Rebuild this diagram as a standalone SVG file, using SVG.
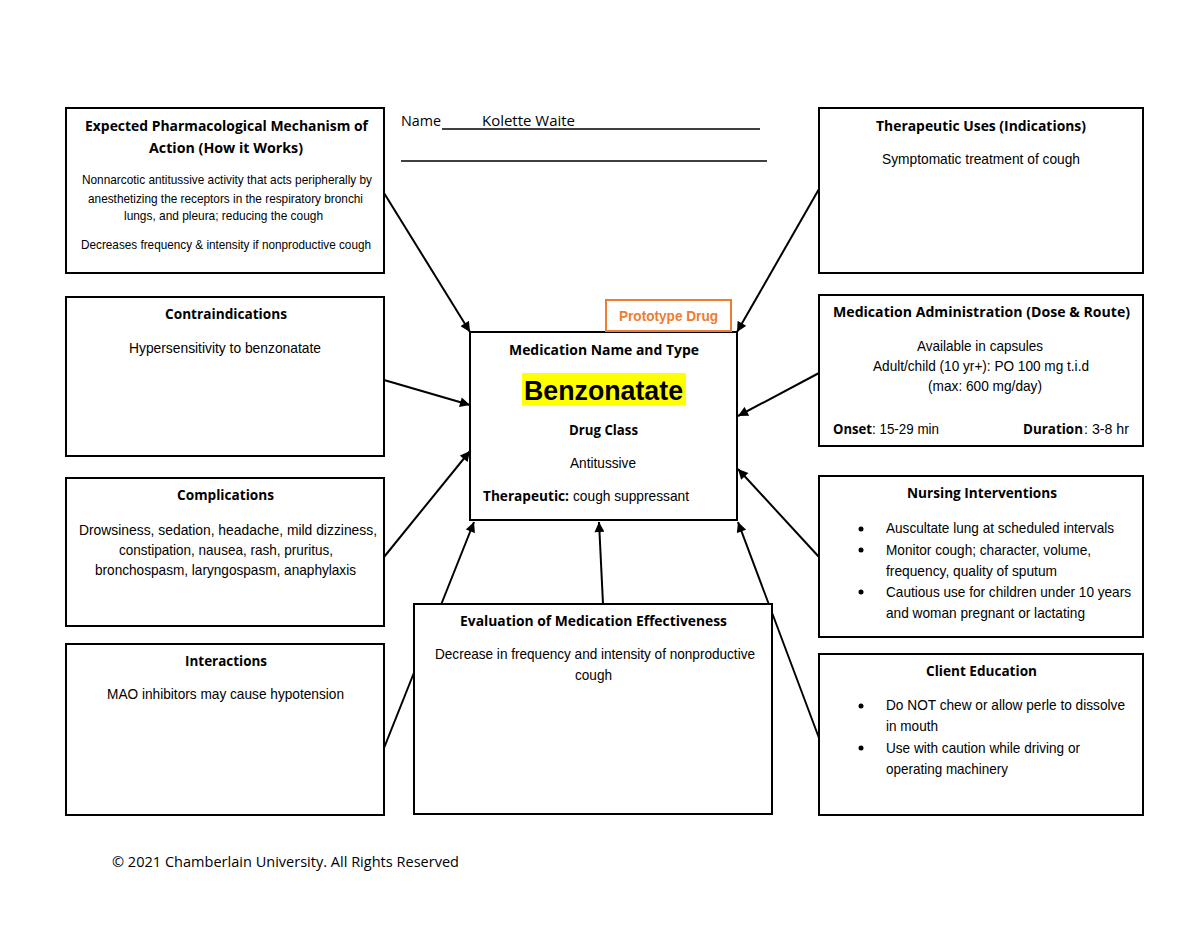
<svg xmlns="http://www.w3.org/2000/svg" width="1200" height="927" viewBox="0 0 1200 927">
<defs>
<marker id="arr" viewBox="0 0 10 10" refX="10" refY="5" markerWidth="11" markerHeight="10" markerUnits="userSpaceOnUse" orient="auto"><path d="M0,0 L10,5 L0,10 z" fill="#000"/></marker>
<style>
.box{fill:#fff;stroke:#000;stroke-width:2}
text{fill:#000}
.h{font-family:"Open Sans",Lato,sans-serif;font-weight:bold;font-size:13.5px}
.b{font-family:"Liberation Sans",Arial,sans-serif;font-size:15px}
.s{font-family:"Liberation Sans",Arial,sans-serif;font-size:13.5px}
.c{stroke:#000;stroke-width:2;fill:none;marker-end:url(#arr)}
.u{stroke:#000;stroke-width:1.3}
.cal{font-family:"Open Sans",Lato,sans-serif;font-size:14px}
</style>
</defs>
<rect width="1200" height="927" fill="#fff"/>
<g id="connectors">
<line class="c" x1="384" y1="193" x2="470" y2="332"/>
<line class="c" x1="819" y1="189" x2="737" y2="332"/>
<line class="c" x1="384" y1="380" x2="470" y2="405"/>
<line class="c" x1="384" y1="557" x2="470" y2="451"/>
<line class="c" x1="384" y1="748" x2="474" y2="522"/>
<line class="c" x1="603" y1="604" x2="599" y2="522"/>
<line class="c" x1="819" y1="373" x2="738" y2="416"/>
<line class="c" x1="819" y1="557" x2="738" y2="469"/>
<line class="c" x1="819" y1="738" x2="738" y2="522"/>
</g>
<g id="name-line">
<text class="cal" x="401" y="126" textLength="40" lengthAdjust="spacingAndGlyphs">Name</text>
<line class="u" x1="442" y1="129" x2="760" y2="129"/>
<text class="cal" x="482" y="126" textLength="93" lengthAdjust="spacingAndGlyphs">Kolette Waite</text>
<line class="u" x1="401" y1="161" x2="767" y2="161"/>
</g>
<g id="mechanism">
<rect class="box" x="66" y="108" width="318" height="165"/>
<text class="h" x="85" y="131" textLength="283" lengthAdjust="spacingAndGlyphs">Expected Pharmacological Mechanism of</text>
<text class="h" x="149" y="153" textLength="154" lengthAdjust="spacingAndGlyphs">Action (How it Works)</text>
<text class="s" x="82" y="184" textLength="290" lengthAdjust="spacingAndGlyphs">Nonnarcotic antitussive activity that acts peripherally by</text>
<text class="s" x="88" y="203" textLength="275" lengthAdjust="spacingAndGlyphs">anesthetizing the receptors in the respiratory bronchi</text>
<text class="s" x="124" y="220" textLength="199" lengthAdjust="spacingAndGlyphs">lungs, and pleura; reducing the cough</text>
<text class="s" x="81" y="249" textLength="290" lengthAdjust="spacingAndGlyphs">Decreases frequency &amp; intensity if nonproductive cough</text>
</g>
<g id="contraindications">
<rect class="box" x="66" y="297" width="318" height="159"/>
<text class="h" x="165" y="319" textLength="122" lengthAdjust="spacingAndGlyphs">Contraindications</text>
<text class="b" x="129" y="353" textLength="192" lengthAdjust="spacingAndGlyphs">Hypersensitivity to benzonatate</text>
</g>
<g id="complications">
<rect class="box" x="66" y="478" width="318" height="148"/>
<text class="h" x="177" y="500" textLength="97" lengthAdjust="spacingAndGlyphs">Complications</text>
<text class="b" x="79" y="535" textLength="298" lengthAdjust="spacingAndGlyphs">Drowsiness, sedation, headache, mild dizziness,</text>
<text class="b" x="119" y="555" textLength="214" lengthAdjust="spacingAndGlyphs">constipation, nausea, rash, pruritus,</text>
<text class="b" x="95" y="575" textLength="261" lengthAdjust="spacingAndGlyphs">bronchospasm, laryngospasm, anaphylaxis</text>
</g>
<g id="interactions">
<rect class="box" x="66" y="644" width="318" height="171"/>
<text class="h" x="185" y="666" textLength="82" lengthAdjust="spacingAndGlyphs">Interactions</text>
<text class="b" x="107" y="699" textLength="237" lengthAdjust="spacingAndGlyphs">MAO inhibitors may cause hypotension</text>
</g>
<g id="medication">
<rect class="box" x="470" y="332" width="267" height="188"/>
<text class="h" x="509" y="355" textLength="190" lengthAdjust="spacingAndGlyphs">Medication Name and Type</text>
<rect x="522" y="373" width="164" height="32" fill="#ffff00"/>
<text x="524" y="400" textLength="159" lengthAdjust="spacingAndGlyphs" style="font-family:'Liberation Sans',Arial,sans-serif;font-weight:bold;font-size:28px">Benzonatate</text>
<text class="h" x="569" y="435" textLength="69" lengthAdjust="spacingAndGlyphs">Drug Class</text>
<text class="b" x="570" y="468" textLength="66" lengthAdjust="spacingAndGlyphs">Antitussive</text>
<text class="h" x="483" y="501" textLength="86" lengthAdjust="spacingAndGlyphs">Therapeutic:</text>
<text class="b" x="573" y="501" textLength="116" lengthAdjust="spacingAndGlyphs">cough suppressant</text>
</g>
<g id="prototype">
<rect x="606" y="300" width="125" height="31" fill="#fff" stroke="#ed7d31" stroke-width="2"/>
<text x="619" y="321" textLength="99" lengthAdjust="spacingAndGlyphs" style="font-family:'Liberation Sans',Arial,sans-serif;font-weight:bold;font-size:14.5px;fill:#ed7d31">Prototype Drug</text>
</g>
<g id="therapeutic-uses">
<rect class="box" x="819" y="108" width="324" height="165"/>
<text class="h" x="876" y="131" textLength="210" lengthAdjust="spacingAndGlyphs">Therapeutic Uses (Indications)</text>
<text class="b" x="882" y="164" textLength="198" lengthAdjust="spacingAndGlyphs">Symptomatic treatment of cough</text>
</g>
<g id="administration">
<rect class="box" x="819" y="295" width="324" height="151"/>
<text class="h" x="833" y="317" textLength="297" lengthAdjust="spacingAndGlyphs">Medication Administration (Dose &amp; Route)</text>
<text class="b" x="917" y="351" textLength="126" lengthAdjust="spacingAndGlyphs">Available in capsules</text>
<text class="b" x="873" y="371" textLength="216" lengthAdjust="spacingAndGlyphs">Adult/child (10 yr+): PO 100 mg t.i.d</text>
<text class="b" x="928" y="391" textLength="114" lengthAdjust="spacingAndGlyphs">(max: 600 mg/day)</text>
<text class="h" x="833" y="434" textLength="39" lengthAdjust="spacingAndGlyphs">Onset</text>
<text class="b" x="872" y="434" textLength="67" lengthAdjust="spacingAndGlyphs">: 15-29 min</text>
<text class="h" x="1023" y="434" textLength="60" lengthAdjust="spacingAndGlyphs">Duration</text>
<text class="b" x="1084" y="434" textLength="45" lengthAdjust="spacingAndGlyphs">: 3-8 hr</text>
</g>
<g id="nursing">
<rect class="box" x="819" y="476" width="324" height="161"/>
<text class="h" x="907" y="498" textLength="150" lengthAdjust="spacingAndGlyphs">Nursing Interventions</text>
<circle cx="861" cy="529" r="2.5"/>
<circle cx="861" cy="550" r="2.5"/>
<circle cx="861" cy="592" r="2.5"/>
<text class="b" x="886" y="533" textLength="228" lengthAdjust="spacingAndGlyphs">Auscultate lung at scheduled intervals</text>
<text class="b" x="886" y="555" textLength="205" lengthAdjust="spacingAndGlyphs">Monitor cough; character, volume,</text>
<text class="b" x="886" y="576" textLength="171" lengthAdjust="spacingAndGlyphs">frequency, quality of sputum</text>
<text class="b" x="886" y="597" textLength="245" lengthAdjust="spacingAndGlyphs">Cautious use for children under 10 years</text>
<text class="b" x="886" y="618" textLength="199" lengthAdjust="spacingAndGlyphs">and woman pregnant or lactating</text>
</g>
<g id="client-education">
<rect class="box" x="819" y="654" width="324" height="161"/>
<text class="h" x="926" y="676" textLength="111" lengthAdjust="spacingAndGlyphs">Client Education</text>
<circle cx="861" cy="706" r="2.5"/>
<circle cx="861" cy="748" r="2.5"/>
<text class="b" x="886" y="710" textLength="239" lengthAdjust="spacingAndGlyphs">Do NOT chew or allow perle to dissolve</text>
<text class="b" x="886" y="731" textLength="52" lengthAdjust="spacingAndGlyphs">in mouth</text>
<text class="b" x="886" y="753" textLength="194" lengthAdjust="spacingAndGlyphs">Use with caution while driving or</text>
<text class="b" x="886" y="774" textLength="122" lengthAdjust="spacingAndGlyphs">operating machinery</text>
</g>
<g id="evaluation">
<rect class="box" x="414" y="604" width="358" height="210"/>
<text class="h" x="460" y="626" textLength="267" lengthAdjust="spacingAndGlyphs">Evaluation of Medication Effectiveness</text>
<text class="b" x="435" y="659" textLength="320" lengthAdjust="spacingAndGlyphs">Decrease in frequency and intensity of nonproductive</text>
<text class="b" x="575" y="680" textLength="37" lengthAdjust="spacingAndGlyphs">cough</text>
</g>
<text class="cal" x="112" y="867" textLength="347" lengthAdjust="spacingAndGlyphs">© 2021 Chamberlain University. All Rights Reserved</text>
</svg>
